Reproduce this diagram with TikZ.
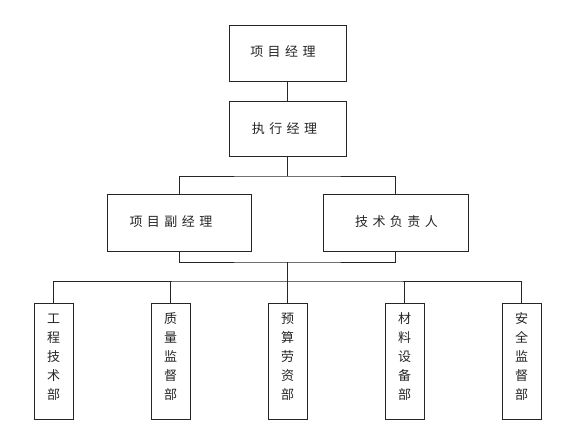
\documentclass[tikz,border=0pt]{standalone}
\usepackage{fontspec}
\newfontfamily\cjk{Noto Sans CJK SC}
\newcommand\cgap{\hspace{4.5pt}}
\begin{document}
\begin{tikzpicture}[x=1pt,y=-1pt,
  box/.style={draw=black!85,line width=0.8pt,inner sep=0pt,outer sep=0pt},
  hbox/.style={box,minimum width=117pt,minimum height=56pt},
  mbox/.style={box,minimum width=145pt,minimum height=57pt},
  vbox/.style={box,minimum width=39pt,minimum height=116pt},
  txt/.style={inner sep=0pt,font=\cjk\fontsize{13}{19}\selectfont,text=black!85},
  vtxt/.style={txt,align=center},
  conn/.style={draw=black!85,line width=0.8pt}]
\useasboundingbox (0,0) rectangle (576,432);
\fill[white] (0,0) rectangle (576,432);
% boxes
\node[hbox] (pm) at (287.5,53) {};
\node[hbox,minimum height=55pt] (zx) at (287.5,128.5) {};
\node[mbox,minimum width=144pt] (fu) at (179,222.5) {};
\node[mbox] (js) at (395.5,222.5) {};
\node[vbox] (b1) at (53.5,361) {};
\node[vbox] (b2) at (170.5,361) {};
\node[vbox] (b3) at (287.5,361) {};
\node[vbox] (b4) at (404.5,361) {};
\node[vbox] (b5) at (521.5,361) {};
% texts
\node[txt] (tpm) at (283,52) {项\cgap 目\cgap 经\cgap 理};
\node[txt] (tzx) at (284.5,129) {执\cgap 行\cgap 经\cgap 理};
\node[txt] (tfu) at (171,222) {项\cgap 目\cgap 副\cgap 经\cgap 理};
\node[txt] (tjs) at (396.5,222) {技\cgap 术\cgap 负\cgap 责\cgap 人};
\node[vtxt] (t1) at (53.5,357) {工\\程\\技\\术\\部};
\node[vtxt] (t2) at (170.5,357) {质\\量\\监\\督\\部};
\node[vtxt] (t3) at (287.5,357) {预\\算\\劳\\资\\部};
\node[vtxt] (t4) at (404.5,357) {材\\料\\设\\备\\部};
\node[vtxt] (t5) at (521.5,357) {安\\全\\监\\督\\部};
% junctions
\coordinate (j1) at (287.5,176);
\coordinate (j2) at (287.5,262);
\coordinate (j3) at (287.5,281);
% connectors
\draw[conn] (pm.south) -- (zx.north);
\draw[conn] (zx.south) -- (j1);
\draw[conn] (fu.north) |- (j1) -| (js.north);
\draw[conn] (fu.south) |- (j2) -| (js.south);
\draw[conn] (j2) -- (b3.north);
\draw[conn] (b1.north) |- (j3) -| (b5.north);
\draw[conn] (b2.north) -- (b2.north |- j3);
\draw[conn] (b4.north) -- (b4.north |- j3);
\end{tikzpicture}
\end{document}
